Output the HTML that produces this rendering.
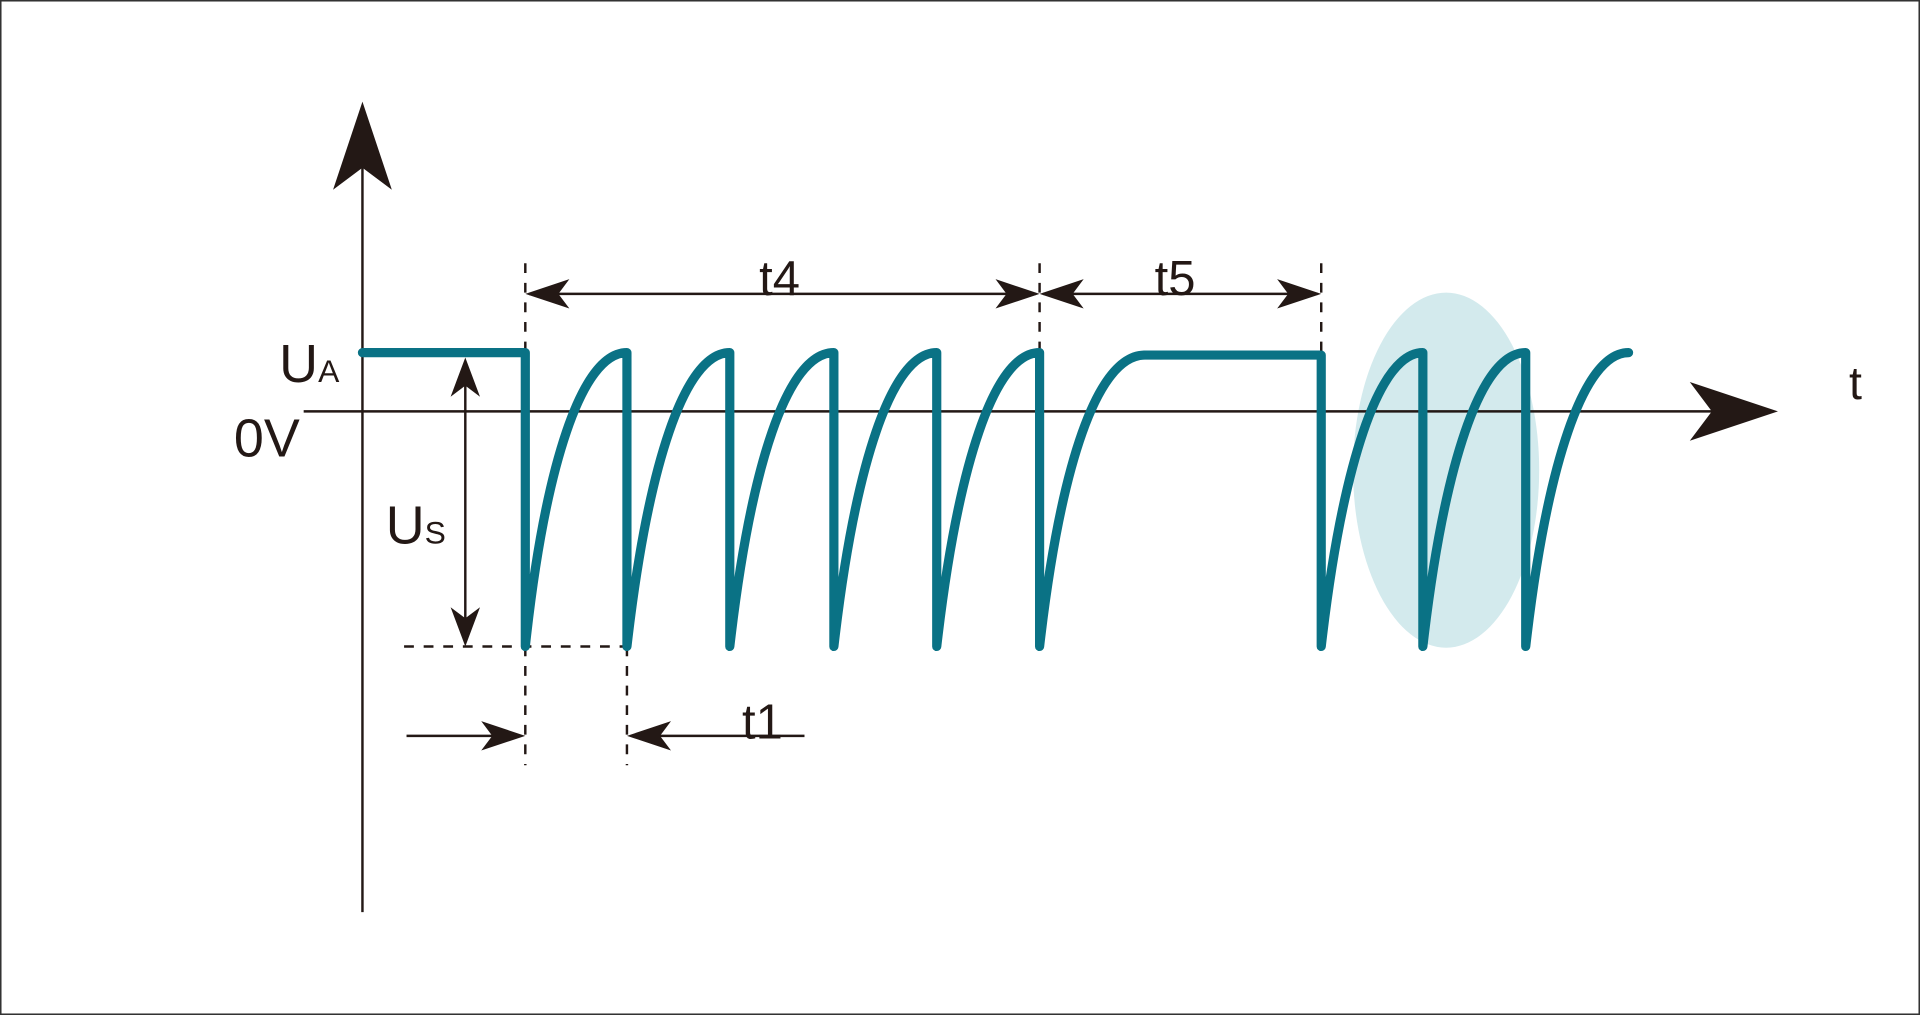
<!DOCTYPE html>
<html><head><style>html,body{margin:0;padding:0;background:#fff}svg{display:block}</style></head>
<body>
<svg width="1920" height="1015" viewBox="0 0 1568 829" preserveAspectRatio="none" xmlns="http://www.w3.org/2000/svg" font-family="Liberation Sans, sans-serif" fill="#231815">
<rect x="0.5" y="0.5" width="1567" height="828" fill="#fff" stroke="#333" stroke-width="1.5"/>
<ellipse cx="1181" cy="384" rx="76" ry="145" fill="#d3eaed"/>
<g stroke="#231815" stroke-width="2" fill="none">
<line x1="296" y1="745" x2="296" y2="130"/>
<line x1="248" y1="336" x2="1400" y2="336"/>
<line x1="432" y1="240" x2="846" y2="240"/>
<line x1="852" y1="240" x2="1076" y2="240"/>
<line x1="380" y1="295" x2="380" y2="524"/>
<line x1="332" y1="601" x2="425" y2="601"/>
<line x1="516" y1="601" x2="657" y2="601"/>
<g stroke-dasharray="8,8">
<line x1="429" y1="215" x2="429" y2="290"/>
<line x1="849" y1="215" x2="849" y2="290"/>
<line x1="1079" y1="215" x2="1079" y2="290"/>
<line x1="429" y1="528" x2="429" y2="625"/>
<line x1="512" y1="528" x2="512" y2="625"/>
<line x1="330" y1="528" x2="512" y2="528"/>
</g>
</g>
<polygon points="296,83 272,155 296,137 320,155"/>
<polygon points="1452,336 1380,312 1398,336 1380,360"/>
<polygon points="429,240 465,228 456,240 465,252"/>
<polygon points="849,240 813,228 822,240 813,252"/>
<polygon points="849,240 885,228 876,240 885,252"/>
<polygon points="1079,240 1043,228 1052,240 1043,252"/>
<polygon points="380,292 368,324 380,315 392,324"/>
<polygon points="380,528 368,496 380,505 392,496"/>
<polygon points="429,601 393,589 402,601 393,613"/>
<polygon points="512,601 548,589 539,601 548,613"/>
<g stroke="#0a7285" stroke-width="7.5" fill="none" stroke-linecap="round" stroke-linejoin="round">
<path d="M296,288 H429 V528
C445,380 475,288 512,288 V528
C529,380 559,288 596,288 V528
C613,380 643,288 681,288 V528
C698,380 728,288 765,288 V528
C782,380 812,288 849,288 V528
C866,380 896,290 935,290 H1079 V528
C1096,380 1126,288 1162,288 V528
C1179,380 1209,288 1246,288 V528
C1263,380 1293,288 1330,288"/>
</g>
<g font-size="44">
<text x="228" y="312">U<tspan font-size="26">A</tspan></text>
<text x="191" y="373">0V</text>
<text x="315" y="444">U<tspan font-size="26">S</tspan></text>
<text x="1510" y="326" font-size="38">t</text>
<text x="620" y="241" font-size="40">t4</text>
<text x="943" y="241" font-size="40">t5</text>
<text x="606" y="603" font-size="40">t1</text>
</g>
</svg>
</body></html>
